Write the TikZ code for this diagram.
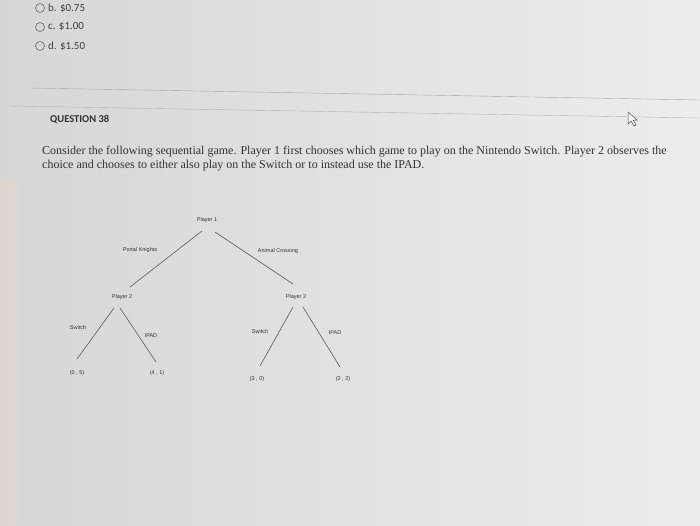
\documentclass[tikz,border=0pt]{standalone}
\usepackage{fontspec}
\setmainfont{Liberation Serif}
\newfontfamily\treefont{Liberation Sans}
\newfontfamily\carlfont{Carlito}
\begin{document}
\begin{tikzpicture}[x=1pt,y=-1pt,
  lbl/.style={font=\treefont\fontsize{5.5}{6}\selectfont,text=black!80,inner sep=0pt},
  edge/.style={draw=black!65,line width=0.6pt},
  opt/.style={font=\carlfont\fontsize{11}{12}\selectfont,text=black!75,anchor=west,inner sep=0pt},
  radio/.style={draw=black!60,line width=0.6pt}]
\path[use as bounding box] (0,0) rectangle (700,525);
\shade[left color=black!16,right color=black!7] (0,0) rectangle (700,525);
\fill[orange!25,opacity=0.2] (0,180) rectangle (18,525);
% radio options
\foreach \y/\t/\n in {8/b. \$0.75/oa, 27/c. \$1.00/ob, 46/d. \$1.50/oc}{
  \draw[radio] (40,\y) circle (4.5);
  \node[opt] (\n) at (48,\y) {\t};
}
% separator lines
\draw[black!35] (30,88) -- (700,100);
\draw[black!30] (10,106) -- (700,118);
\node[font=\carlfont\bfseries\fontsize{10.5}{12}\selectfont,anchor=west,text=black!80,inner sep=0pt] (q) at (50,120) {QUESTION 38};
\node[anchor=north west,font=\fontsize{12}{13.5}\selectfont,text=black!80,inner sep=0pt,align=left] (para) at (42,146)
 {Consider the following sequential game. Player 1 first chooses which game to play on the Nintendo Switch. Player 2 observes the\\
  choice and chooses to either also play on the Switch or to instead use the IPAD.};
% tree
\node[lbl] (p1) at (207,220) {Player 1};
\node[lbl] (p2a) at (122,297) {Player 2};
\node[lbl] (p2b) at (296,297) {Player 2};
\node[lbl] (l1) at (77,373) {(0 , 5)};
\node[lbl] (l2) at (157,373) {(4 , 1)};
\node[lbl] (l3) at (257,379) {(3 , 0)};
\node[lbl] (l4) at (343,379) {(2 , 2)};
\coordinate (a1) at (130,287); \coordinate (b1) at (202,231);
\coordinate (a2) at (293,284); \coordinate (b2) at (215,232);
\draw[edge] (b1) -- (a1);
\draw[edge] (b2) -- (a2);
\coordinate (c1) at (114,308); \coordinate (d1) at (77,359);
\coordinate (c2) at (120,308); \coordinate (d2) at (156,362);
\coordinate (c3) at (293,307); \coordinate (d3) at (260,366);
\coordinate (c4) at (303,307); \coordinate (d4) at (340,367);
\draw[edge] (c1) -- (d1); \draw[edge] (c2) -- (d2);
\draw[edge] (c3) -- (d3); \draw[edge] (c4) -- (d4);
\node[lbl] (e1) at (140,250) {Portal Knights};
\node[lbl] (e2) at (278,251) {Animal Crossing};
\node[lbl] (e3) at (78,328) {Switch};
\node[lbl] (e4) at (151,336) {IPAD};
\node[lbl] (e5) at (260,332) {Switch};
\node[lbl] (e6) at (335,333) {IPAD};
% cursor
\draw[black!70,fill=white,line width=0.5pt] (628,112) -- (628,124) -- (631,121) -- (634,126) -- (636,125) -- (633,120) -- (637,120) -- cycle;
\end{tikzpicture}
\end{document}
